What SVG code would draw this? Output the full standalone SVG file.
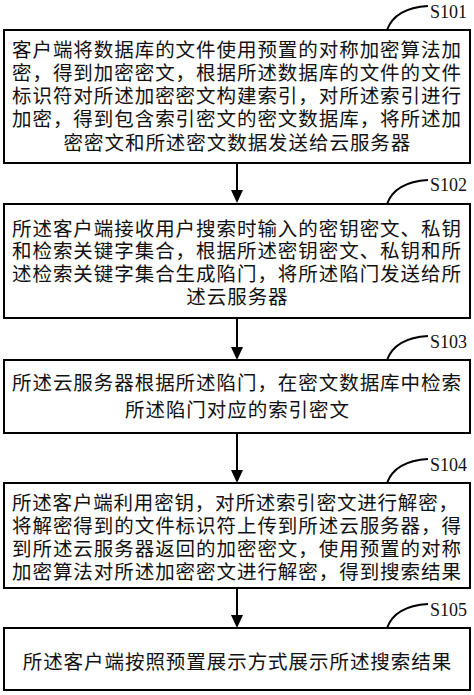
<svg xmlns="http://www.w3.org/2000/svg" width="474" height="695" viewBox="0 0 474 695">
<style>
.box{fill:#fff;stroke:#000;stroke-width:2}
.t{font-family:"Noto Sans CJK SC","Noto Sans CJK JP",sans-serif;font-size:19.5px;letter-spacing:0.95px;fill:#111}
.lbl{font-family:"Liberation Serif",serif;font-size:18px;fill:#111}
.lead{fill:none;stroke:#000;stroke-width:2}
.conn{stroke:#000;stroke-width:2;fill:none}
.head{fill:#000}
</style>
<rect width="474" height="695" fill="#fff"/>
<g id="connectors">
<line class="conn" x1="237" y1="164" x2="237" y2="191"/>
<path class="head" d="M231,190 L243,190 L237,203 Z"/>
<line class="conn" x1="237" y1="319" x2="237" y2="348"/>
<path class="head" d="M231,347 L243,347 L237,360 Z"/>
<line class="conn" x1="237" y1="434" x2="237" y2="471"/>
<path class="head" d="M231,470 L243,470 L237,483 Z"/>
<line class="conn" x1="237" y1="589" x2="237" y2="616"/>
<path class="head" d="M231,615 L243,615 L237,628 Z"/>
</g>
<g id="S101">
<rect class="box" x="4" y="30" width="466" height="133"/>
<path class="lead" d="M387,30 Q395,8 428,6"/>
<text class="lbl" x="430" y="18">S101</text>
<text class="t" x="12" y="56.5">客户端将数据库的文件使用预置的对称加密算法加</text>
<text class="t" x="12" y="79.5">密，得到加密密文，根据所述数据库的文件的文件</text>
<text class="t" x="12" y="102.5">标识符对所述加密密文构建索引，对所述索引进行</text>
<text class="t" x="12" y="125.5">加密，得到包含索引密文的密文数据库，将所述加</text>
<text class="t" x="63.6" y="149.5">密密文和所述密文数据发送给云服务器</text>
</g>
<g id="S102">
<rect class="box" x="4" y="204" width="466" height="114"/>
<path class="lead" d="M387,204 Q395,182 428,180"/>
<text class="lbl" x="430" y="191">S102</text>
<text class="t" x="12" y="235.5">所述客户端接收用户搜索时输入的密钥密文、私钥</text>
<text class="t" x="12" y="257.5">和检索关键字集合，根据所述密钥密文、私钥和所</text>
<text class="t" x="12" y="280.5">述检索关键字集合生成陷门，将所述陷门发送给所</text>
<text class="t" x="186.3" y="304">述云服务器</text>
</g>
<g id="S103">
<rect class="box" x="4" y="360" width="466" height="73"/>
<path class="lead" d="M387,360 Q395,338 428,336"/>
<text class="lbl" x="430" y="348">S103</text>
<text class="t" x="12" y="389.5">所述云服务器根据所述陷门，在密文数据库中检索</text>
<text class="t" x="125" y="417">所述陷门对应的索引密文</text>
</g>
<g id="S104">
<rect class="box" x="4" y="483" width="466" height="105"/>
<path class="lead" d="M387,483 Q395,461 428,459"/>
<text class="lbl" x="430" y="471">S104</text>
<text class="t" x="12" y="509.5" style="letter-spacing:0" textLength="446" lengthAdjust="spacing">所述客户端利用密钥，对所述索引密文进行解密，</text>
<text class="t" x="12" y="532.5">将解密得到的文件标识符上传到所述云服务器，得</text>
<text class="t" x="12" y="555.5">到所述云服务器返回的加密密文，使用预置的对称</text>
<text class="t" x="12" y="579">加密算法对所述加密密文进行解密，得到搜索结果</text>
</g>
<g id="S105">
<rect class="box" x="4" y="628" width="466" height="62"/>
<path class="lead" d="M387,628 Q395,606 428,604"/>
<text class="lbl" x="430" y="616">S105</text>
<text class="t" x="22.7" y="669">所述客户端按照预置展示方式展示所述搜索结果</text>
</g>
</svg>
